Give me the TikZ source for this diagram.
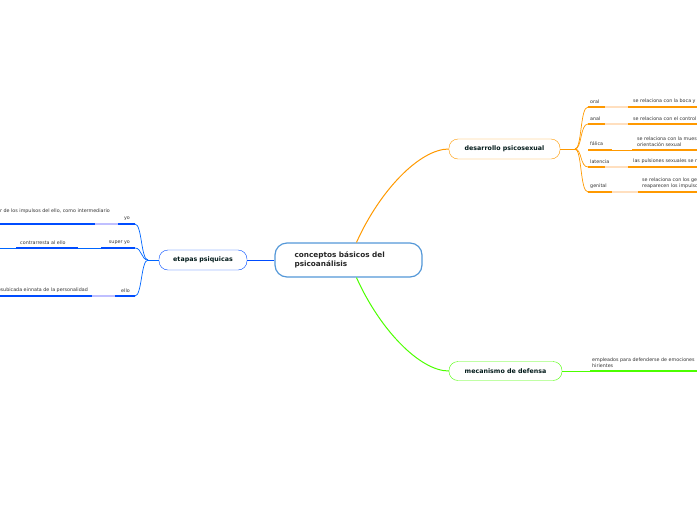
\documentclass[tikz,border=0pt]{standalone}
\usepackage{fontspec}
\setmainfont{DejaVu Sans}
\begin{document}
\begin{tikzpicture}[x=1pt,y=-1pt,
  topic/.style={draw,rounded corners=9pt,fill=white,font=\bfseries\fontsize{6.3}{8}\selectfont,text=black!80!teal,inner xsep=6pt,anchor=center},
  lbl/.style={font=\fontsize{4.8}{6.2}\selectfont,text=black!80,inner sep=1pt,align=left},
  ob/.style={orange!80!yellow,line width=0.7pt},
  obt/.style={orange!80!yellow,line width=1.6pt},
  obl/.style={orange!25,line width=1.6pt},
  bb/.style={blue!60!cyan,line width=0.7pt},
  bbt/.style={blue!70!cyan,line width=1.6pt},
  bbl/.style={blue!25,line width=1.6pt},
  gb/.style={green!70!yellow,line width=0.8pt},
  gbt/.style={green!70!yellow,line width=1.8pt}]
\useasboundingbox (0,0) rectangle (697,520);
\clip (0,0) rectangle (697,520);
% central
\node[draw=cyan!60!blue!70,line width=1.2pt,rounded corners=12pt,minimum width=147pt,minimum height=34pt,fill=white] (c) at (348.5,260) {};
\node[font=\bfseries\fontsize{7.3}{9}\selectfont,text=black!85,align=left,anchor=west] (ct) at (291,260) {conceptos básicos del\\psicoanálisis};
% main topics
\node[topic,draw=orange!80!yellow,minimum width=111pt,minimum height=20pt] (d) at (504.5,149) {desarrollo psicosexual};
\node[topic,draw=blue!70!cyan,minimum width=88pt,minimum height=20pt] (e) at (203,260) {etapas psiquicas};
\node[topic,draw=green!70!yellow,minimum width=113pt,minimum height=19pt] (m) at (505.5,371) {mecanismo de defensa};
\draw[orange!80!yellow,line width=1pt] (c.north) ++(8,0) coordinate (c1) .. controls (380,190) and (420,149) .. (d.west);
\draw[green!70!yellow,line width=1pt] (c.south) ++(8,0) coordinate (c2) .. controls (380,330) and (420,371) .. (m.west);
\draw[blue!70!cyan,line width=1pt] (c.west) -- (e.east);
% orange subtopics
\coordinate (dh) at (575,149);
\draw[ob] (d.east) -- (dh);
\foreach \n/\y/\t/\r in {o/107/oral/se relaciona con la boca y la alimentación,a/124/anal/se relaciona con el control de esfínteres,l/167/latencia/las pulsiones sexuales se reprimen}{
  \coordinate (\n s) at (588,\y);
  \draw[ob] (dh) .. controls (582,149) and (580,\y) .. (\n s);
  \draw[obt] (\n s) -- ++(17,0);
  \draw[obl] (605,\y) -- (628,\y);
  \draw[obt] (628,\y) -- (697,\y);
  \node[lbl,anchor=south west] (\n t) at (589,\y-2) {\t};
  \node[lbl,anchor=south west] (\n r) at (632,\y-2) {\r};
}
\draw[obt] (588,150) -- (612,150);
\draw[ob] (612,150) -- (632,150);
\draw[obt] (632,150) -- (697,150);
\node[lbl,anchor=south west] (ft) at (589,147) {fálica};
\node[lbl,anchor=south west] (fr) at (636,148) {se relaciona con la muestra de la\\orientación sexual};
\coordinate (gs) at (588,192);
\draw[ob] (dh) .. controls (582,149) and (580,192) .. (gs);
\draw[obt] (gs) -- ++(24,0);
\draw[obl] (612,192) -- (638,192);
\draw[obt] (638,192) -- (697,192);
\node[lbl,anchor=south west] (gt) at (589,190) {genital};
\node[lbl,anchor=south west] (gr) at (641,190) {se relaciona con los genitales\\reaparecen los impulsos sexuales};
% blue subtopics
\coordinate (eh) at (148,260);
\draw[bb] (e.west) -- (eh);
\foreach \n/\y in {y/224,s/248,l/296}{
  \draw[bb] (eh) .. controls (141,260) and (142,\y) .. (135,\y);
}
\draw[bbt] (0,224) -- (95,224); \draw[bbl] (95,224) -- (118,224); \draw[bbt] (118,224) -- (135,224);
\draw[bb] (0,248) -- (16,248); \draw[bbt] (16,248) -- (78,248); \draw[bb] (78,248) -- (101,248); \draw[bbt] (101,248) -- (135,248);
\draw[bbt] (0,296) -- (92,296); \draw[bbl] (92,296) -- (115,296); \draw[bbt] (115,296) -- (135,296);
\node[lbl,anchor=south east] (yt) at (131,222) {yo};
\node[lbl,anchor=south east] (st) at (131,246) {super yo};
\node[lbl,anchor=south east] (lt) at (131,294) {ello};
\node[lbl,anchor=south east] (yr) at (111,215) {mediador de los impulsos del ello, como intermediario};
\node[lbl,anchor=south west] (sr) at (19,246) {contrarresta al ello};
\node[lbl,anchor=south east] (lr) at (89,294) {la estructura psíquica más antigua y desubicada einnata de la personalidad};
% green
\draw[gb] (m.east) -- (590,371);
\draw[gbt] (590,371) -- (697,371);
\node[lbl,anchor=south west] (mr) at (591,369) {empleados para defenderse de emociones\\hirientes};
\end{tikzpicture}
\end{document}
